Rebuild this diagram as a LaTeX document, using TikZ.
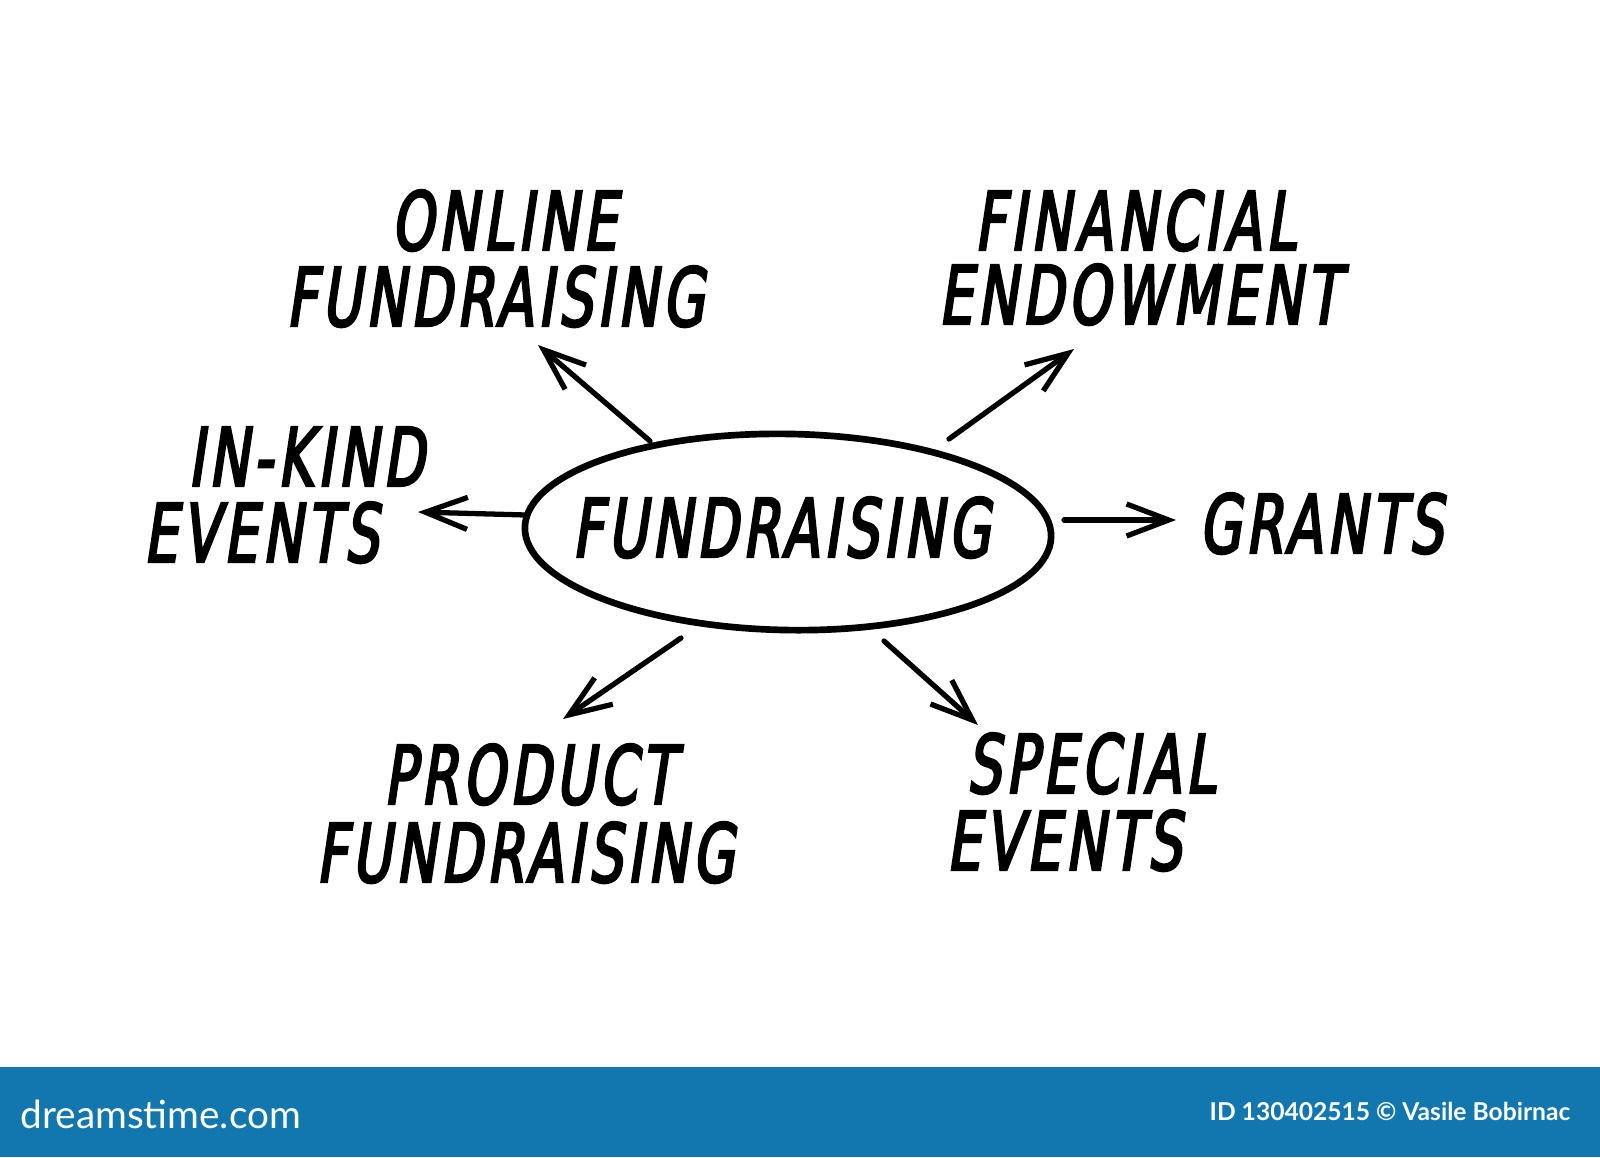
\documentclass[tikz,border=0pt]{standalone}
\usepackage{fontspec}
\usetikzlibrary{arrows.meta,shapes.geometric}
\newfontfamily\hand[FakeStretch=0.66,FakeSlant=0.15,FakeBold=3,LetterSpace=6]{DejaVu Sans}
\newfontfamily\barfont{Lato}
\definecolor{barblue}{HTML}{1177AE}
\begin{document}
\begin{tikzpicture}[x=0.01cm,y=-0.01cm,
  lbl/.style={font=\hand\fontsize{23}{28}\selectfont, anchor=base, inner sep=0pt},
  arr/.style={-{Straight Barb[length=0.42cm,width=0.32cm,line width=1.5pt]}, line width=1.5pt, line cap=round, line join=round},
  hubstyle/.style={draw, ellipse, line width=1.9pt, minimum width=5.26cm, minimum height=1.96cm, inner sep=0pt}]
\useasboundingbox (0,0) rectangle (1600,1157);
\fill[white] (0,0) rectangle (1600,1157);

% central ellipse
\node[hubstyle, rotate=-1] (hub) at (788,532) {};
\node[lbl] (hubtext) at (781,557) {FUNDRAISING};

% labels
\node[lbl] (online1) at (504,250) {ONLINE};
\node[lbl] (online2) at (495,326) {FUNDRAISING};
\node[lbl] (fin1) at (1135,250) {FINANCIAL};
\node[lbl] (fin2) at (1139,324) {ENDOWMENT};
\node[lbl] (kind1) at (306,486) {IN-KIND};
\node[lbl] (kind2) at (261,562) {EVENTS};
\node[lbl] (grants) at (1321,553) {GRANTS};
\node[lbl] (prod1) at (529,804) {PRODUCT};
\node[lbl] (prod2) at (525,882) {FUNDRAISING};
\node[lbl] (spec1) at (1091,793) {SPECIAL};
\node[lbl] (spec2) at (1064,870) {EVENTS};

% arrow end points
\coordinate (a1) at (650,441); \coordinate (b1) at (538,345);
\coordinate (a2) at (949,439); \coordinate (b2) at (1074,349);
\coordinate (a3) at (526,515); \coordinate (b3) at (418,512);
\coordinate (a4) at (1064,520); \coordinate (b4) at (1176,520);
\coordinate (a5) at (681,638); \coordinate (b5) at (563,719);
\coordinate (a6) at (884,641); \coordinate (b6) at (978,725);

\draw[arr] (a1) -- (b1);
\draw[arr] (a2) -- (b2);
\draw[arr] (a3) -- (b3);
\draw[arr] (a4) -- (b4);
\draw[arr] (a5) -- (b5);
\draw[arr] (a6) -- (b6);

% footer bar
\fill[barblue] (0,1067) rectangle (1600,1157);
\node[anchor=base west, text=white, font=\barfont\fontsize{11}{13}\selectfont, inner sep=0pt] (brand) at (20,1128) {dreamstime.com};
\node[anchor=base east, text=white, font=\barfont\bfseries\fontsize{7}{9}\selectfont, inner sep=0pt] (credit) at (1571,1120) {ID 130402515 © Vasile Bobirnac};
\end{tikzpicture}
\end{document}
